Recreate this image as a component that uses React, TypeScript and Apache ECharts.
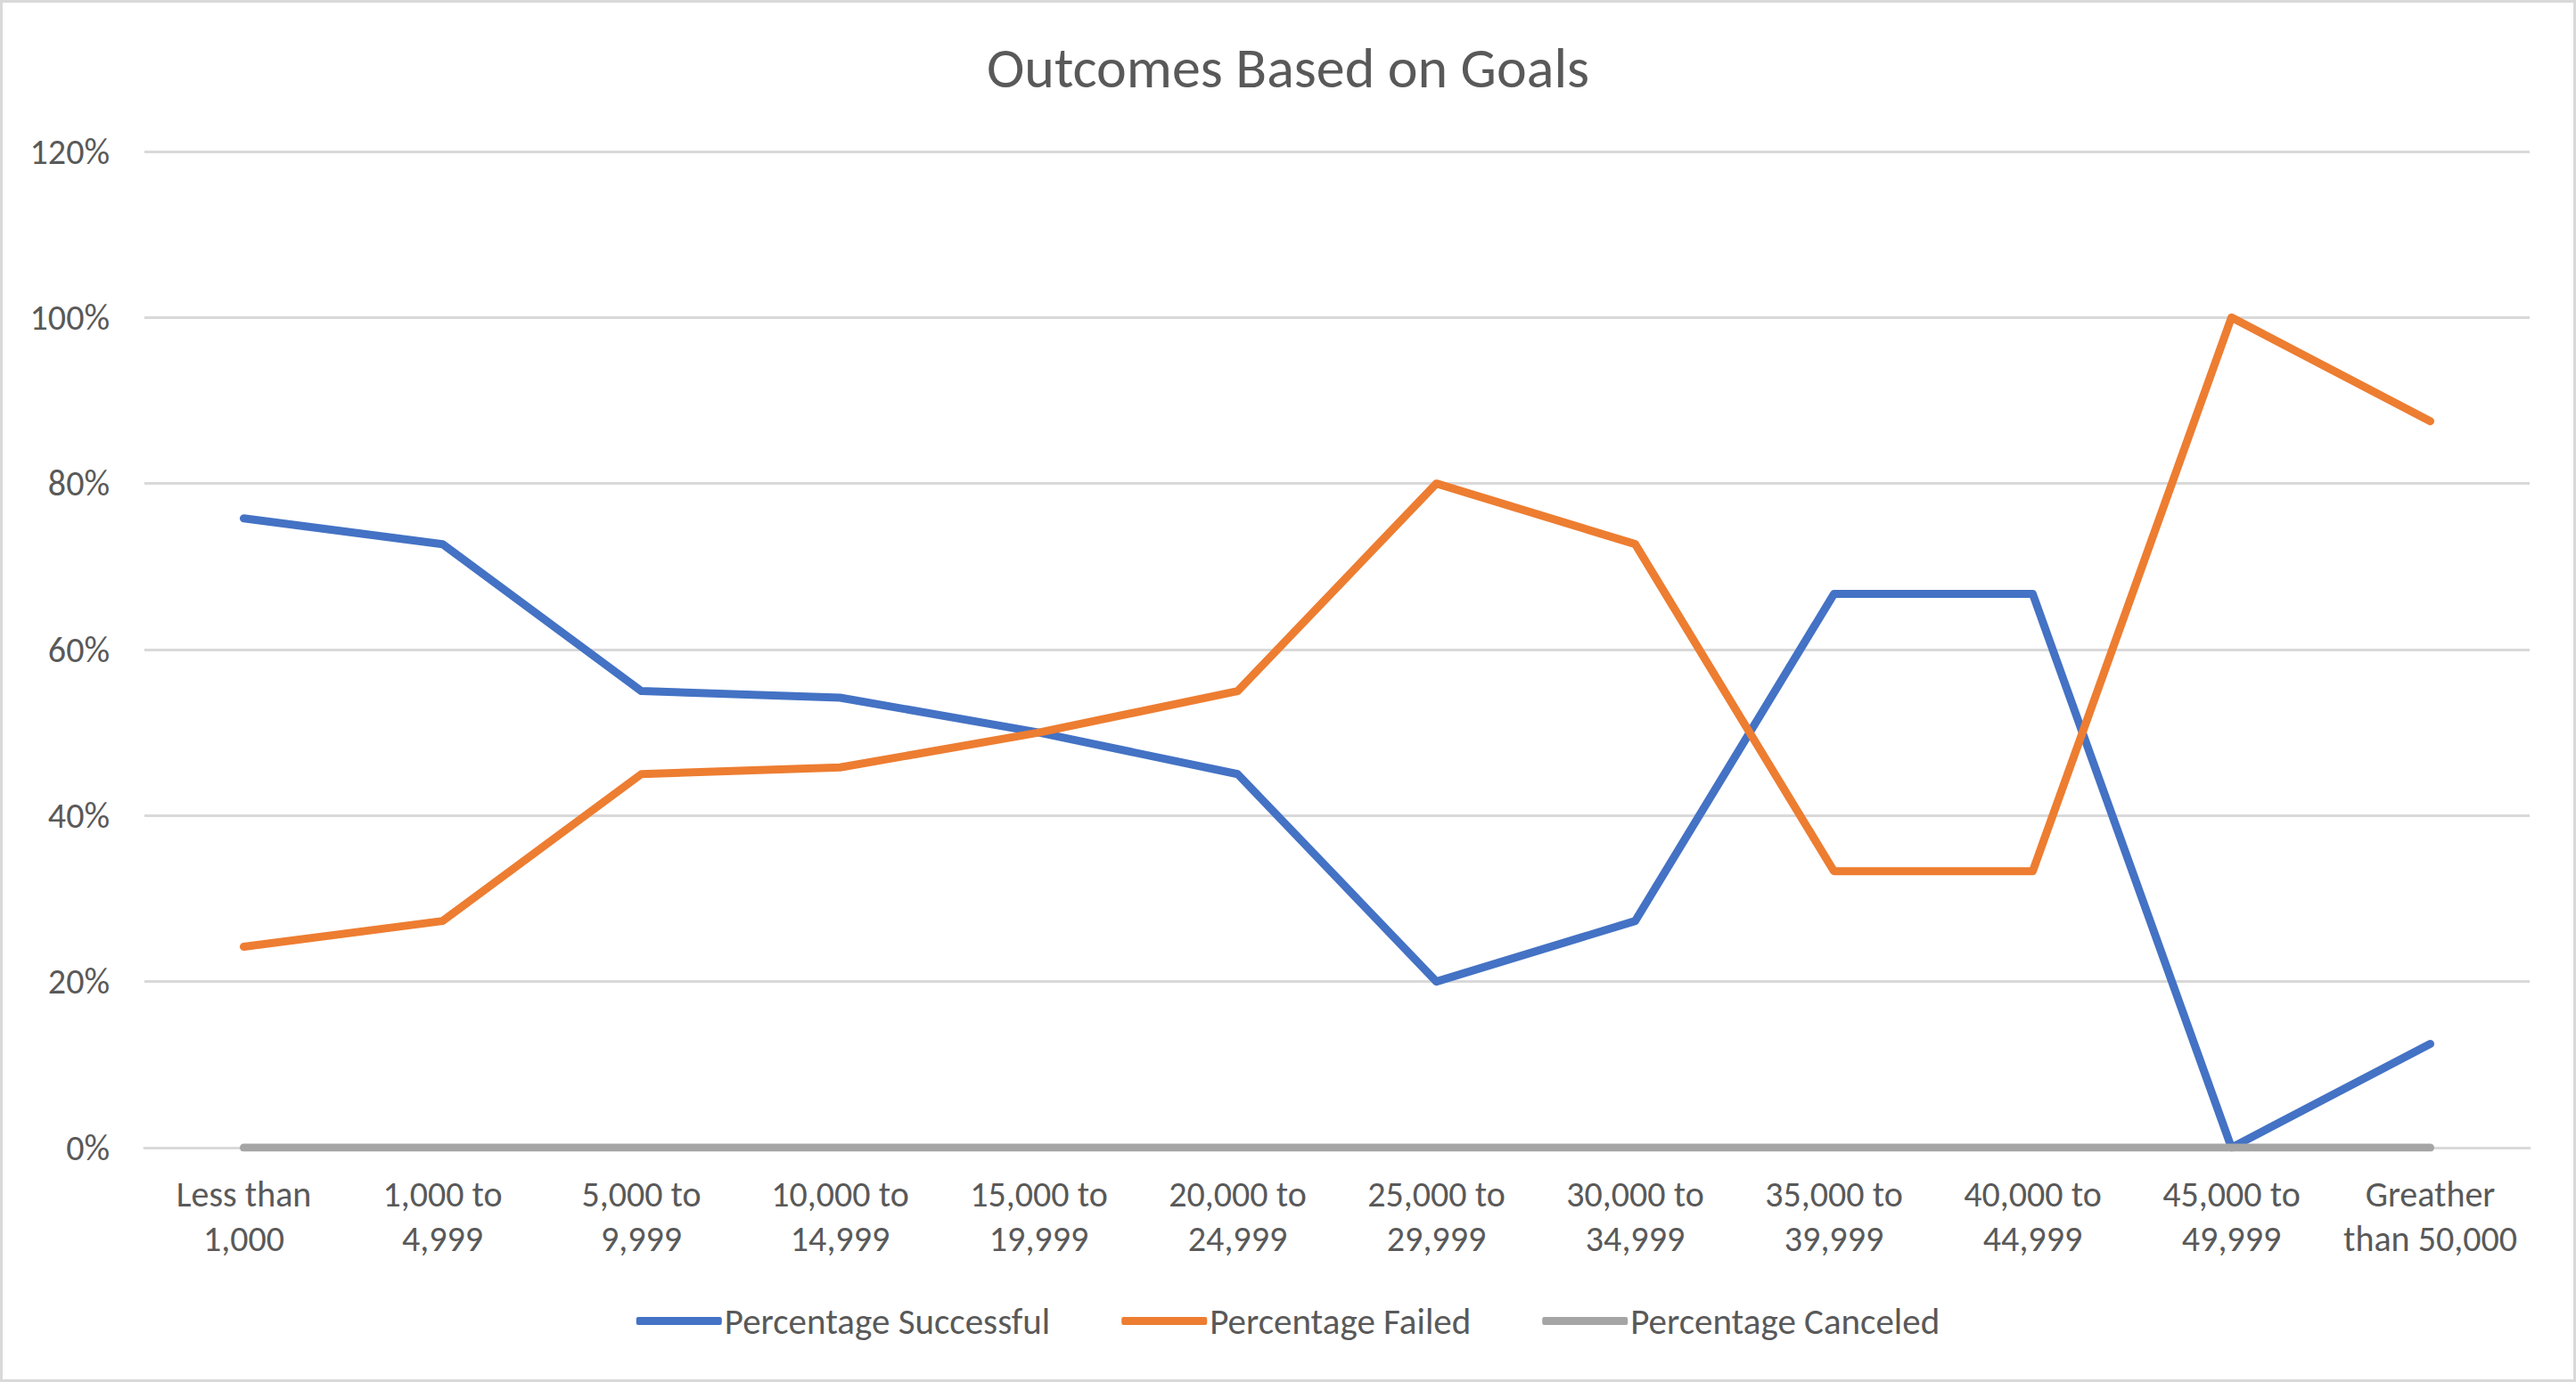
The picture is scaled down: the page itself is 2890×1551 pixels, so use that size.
import React, { useEffect, useRef } from 'react'
import * as echarts from 'echarts'

const categories = [
  'Less than\n1,000', '1,000 to\n4,999', '5,000 to\n9,999', '10,000 to\n14,999',
  '15,000 to\n19,999', '20,000 to\n24,999', '25,000 to\n29,999', '30,000 to\n34,999',
  '35,000 to\n39,999', '40,000 to\n44,999', '45,000 to\n49,999', 'Greather\nthan 50,000',
]
const successful = [75.8, 72.7, 55.0, 54.2, 50.0, 45.0, 20.0, 27.3, 66.7, 66.7, 0, 12.5]
const failed = [24.2, 27.3, 45.0, 45.8, 50.0, 55.0, 80.0, 72.7, 33.3, 33.3, 100, 87.5]
const canceled = [0, 0, 0, 0, 0, 0, 0, 0, 0, 0, 0, 0]

const FONT = 'Carlito, Calibri, Lato, sans-serif'
const TEXT = '#595959'
const GRID = '#D9D9D9'

function line(name: string, data: number[], color: string) {
  return {
    name, type: 'line', data, symbol: 'none', color,
    lineStyle: { width: 9, color, cap: 'round', join: 'round' },
  }
}

export default function App(): JSX.Element {
  const ref = useRef<HTMLDivElement>(null)

  useEffect(() => {
    if (!ref.current) return
    const chart = echarts.init(ref.current, undefined, { renderer: 'svg' })
    chart.setOption({
      animation: false,
      backgroundColor: '#fff',
      title: {
        text: 'Outcomes Based on Goals', left: 'center', top: 36,
        textStyle: { fontFamily: FONT, fontSize: 64, fontWeight: 'normal', color: TEXT },
      },
      legend: {
        bottom: 40, left: 'center', itemGap: 80, itemWidth: 96, itemHeight: 9, icon: 'roundRect',
        textStyle: { fontFamily: FONT, fontSize: 41, color: TEXT, padding: [0, 0, 0, -2] },
      },
      grid: { left: 159, right: 49, top: 167, bottom: 260 },
      xAxis: {
        type: 'category', data: categories, boundaryGap: true,
        axisLine: { lineStyle: { color: GRID, width: 3 } },
        axisTick: { show: false },
        axisLabel: { fontFamily: FONT, fontSize: 40, color: TEXT, lineHeight: 50, margin: 27, interval: 0 },
      },
      yAxis: {
        type: 'value', min: 0, max: 120, interval: 20,
        axisLine: { show: false }, axisTick: { show: false },
        splitLine: { lineStyle: { color: GRID, width: 3 } },
        axisLabel: { fontFamily: FONT, fontSize: 40, color: TEXT, margin: 39, formatter: '{value}%' },
      },
      series: [
        line('Percentage Successful', successful, '#4472C4'),
        line('Percentage Failed', failed, '#ED7D31'),
        line('Percentage Canceled', canceled, '#A5A5A5'),
      ],
    })
    return () => chart.dispose()
  }, [])

  return (
    <div style={{ position: 'fixed', left: 0, top: 0, width: 2890, height: 1551, boxSizing: 'border-box', border: '3px solid #D9D9D9', background: '#fff' }}>
      <div ref={ref} style={{ width: '100%', height: '100%' }} />
    </div>
  )
}
